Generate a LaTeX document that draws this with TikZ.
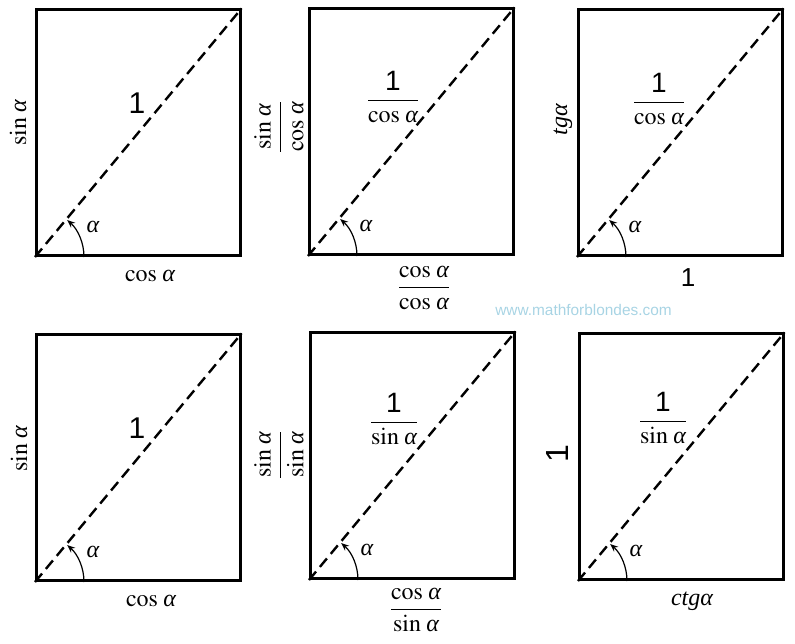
\documentclass[tikz,border=0pt]{standalone}
\usepackage{amsmath}
\usepackage{mathptmx}
\usepackage[no-math]{fontspec}
\setmainfont{Liberation Serif}
\newfontfamily\onefont{Liberation Sans}
\usetikzlibrary{arrows.meta}
\newcommand\bigone[1]{\hbox{\onefont\fontsize{#1}{#1}\selectfont 1}}
\newcommand\al{\text{\itshape α}}
\begin{document}
\begin{tikzpicture}[x=0.5pt,y=0.5pt,
 box/.style={draw, line width=1.3pt, minimum width=102pt, minimum height=123pt, inner sep=0pt, anchor=south west},
 diag/.style={line width=1.2pt, dash pattern=on 5.5pt off 3pt},
 ang/.style={line width=0.6pt, -{Stealth[length=4pt,width=3.2pt]}},
 lbl/.style={inner sep=0pt, font=\fontsize{12}{14}\selectfont},
 big/.style={inner sep=0pt, font=\onefont\fontsize{15}{15}\selectfont},
 wm/.style={inner sep=0pt, text={rgb,255:red,168;green,212;blue,228}, font=\onefont\fontsize{7.7}{9}\selectfont}]
\useasboundingbox (0,0) rectangle (795,643);
% rectangles
\node[box] (r1) at (35,386) {};
\node[box] (r2) at (308,387) {};
\node[box] (r3) at (577,386) {};
\node[box] (r4) at (35,61) {};
\node[box] (r5) at (309,63) {};
\node[box] (r6) at (578,62) {};
% diagonals and angle arcs
\foreach \r in {r1,r2,r3,r4,r5,r6}{
  \draw[diag] (\r.south west) -- (\r.north east);
  \draw[ang] (\r.south west) ++(49,0) arc[start angle=0, end angle=49, radius=49];
  \path (\r.south west) ++(58,30) node[lbl] (a\r) {$\al$};
}
% panel 1
\node[big] (t1) at (137,540) {1};
\node[lbl, rotate=90] (s1) at (18,520) {$\sin\,\al$};
\node[lbl] (c1) at (150,367) {$\cos\,\al$};
% panel 2
\node[lbl] (f2) at (393,546) {$\dfrac{\bigone{14}}{\cos\,\al}$};
\node[lbl, rotate=90] (l2) at (279,516) {$\dfrac{\sin\,\al}{\cos\,\al}$};
\node[lbl] (b2) at (424,355) {$\dfrac{\cos\,\al}{\cos\,\al}$};
% panel 3
\node[lbl] (f3) at (659,544) {$\dfrac{\bigone{14}}{\cos\,\al}$};
\node[lbl, rotate=90] (l3) at (563,523) {\itshape tgα};
\node[inner sep=0pt] (b3) at (688,365) {\bigone{13}};
% panel 4
\node[big] (t4) at (137,215) {1};
\node[lbl, rotate=90] (s4) at (19,194) {$\sin\,\al$};
\node[lbl] (c4) at (151,42) {$\cos\,\al$};
% panel 5
\node[lbl] (f5) at (394,224) {$\dfrac{\bigone{14}}{\sin\,\al}$};
\node[lbl, rotate=90] (l5) at (279,188) {$\dfrac{\sin\,\al}{\sin\,\al}$};
\node[lbl] (b5) at (416,33) {$\dfrac{\cos\,\al}{\sin\,\al}$};
% panel 6
\node[lbl] (f6) at (663,225) {$\dfrac{\bigone{14}}{\sin\,\al}$};
\node[inner sep=0pt, rotate=90] (l6) at (557,189) {\bigone{16}};
\node[lbl] (b6) at (692,42) {\itshape ctgα};
% watermark
\node[wm] (w) at (583.5,333) {www.mathforblondes.com};
\end{tikzpicture}
\end{document}
